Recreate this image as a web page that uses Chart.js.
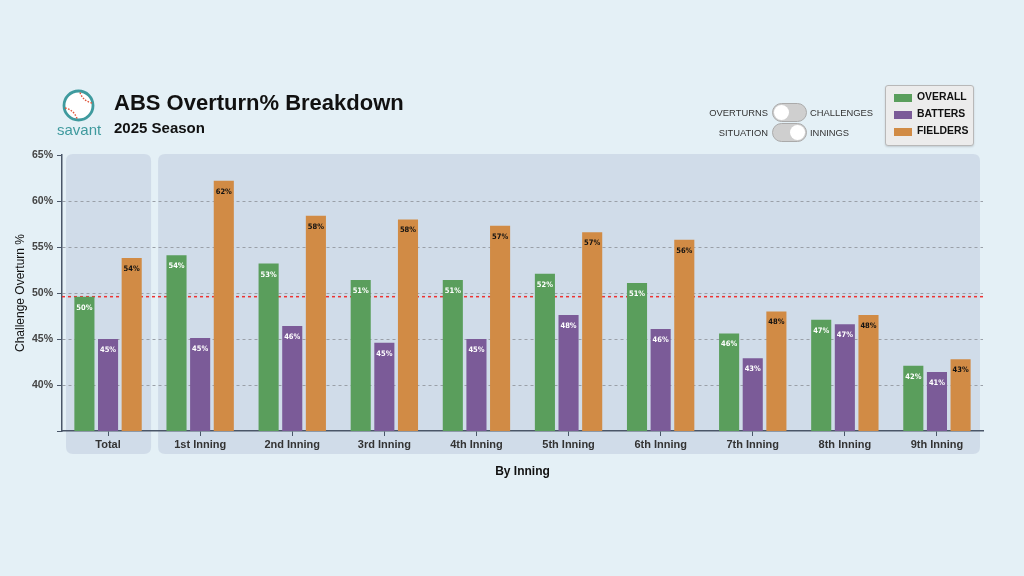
<!DOCTYPE html>
<html>
<head>
<meta charset="utf-8">
<script src="https://cdn.jsdelivr.net/npm/chart.js@4"></script>
<style>
  body { margin:0; background:#e4f0f6; font-family:"Liberation Sans", Arial, sans-serif; }
  #wrap { position:relative; width:1024px; height:576px; overflow:hidden; }
  #chart { position:absolute; left:0; top:0; }
  .title { position:absolute; left:114px; top:90px; font-size:22px; font-weight:bold; color:#111; }
  .sub { position:absolute; left:114px; top:119px; font-size:15px; font-weight:bold; color:#111; }
  .savant { position:absolute; left:57px; top:121px; font-size:15px; color:#3f9a9e; }
  .tg { position:absolute; font-size:9.4px; color:#333; white-space:nowrap; }
  .tr { text-align:right; width:70px; }
  .pill { position:absolute; width:33px; height:17px; background:#cfcfcf; border:1px solid #aaa; border-radius:10px; }
  .knob { position:absolute; top:1px; width:15px; height:15px; background:#fff; border-radius:50%; }
  .legend { position:absolute; left:885px; top:85px; width:87px; height:59px; background:#ececec; border:1px solid #b8b8b8; border-radius:3px; box-shadow:0 1px 2px rgba(0,0,0,0.15); }
  .lg { position:absolute; left:31px; font-size:10.4px; font-weight:bold; color:#111; }
  .sw { position:absolute; left:8px; width:18px; height:8px; }
</style>
</head>
<body>
<div id="wrap">
  <canvas id="chart" width="1024" height="576"></canvas>

  <svg style="position:absolute;left:61px;top:89px" width="36" height="34">
    <circle cx="17.5" cy="16.5" r="14.5" fill="#fff" stroke="#3f9a9e" stroke-width="2.8"/>
    <path d="M19 3.5 Q22 12 31 14" fill="none" stroke="#e0553a" stroke-width="1.4" stroke-dasharray="1.6 1.4"/>
    <path d="M4 19 Q13 21 16 29.5" fill="none" stroke="#e0553a" stroke-width="1.4" stroke-dasharray="1.6 1.4"/>
  </svg>
  <div class="savant">savant</div>
  <div class="title">ABS Overturn% Breakdown</div>
  <div class="sub">2025 Season</div>

  <div class="tg tr" style="left:698px;top:107px">OVERTURNS</div>
  <div class="pill" style="left:772px;top:103px"><div class="knob" style="left:1px"></div></div>
  <div class="tg" style="left:810px;top:107px">CHALLENGES</div>
  <div class="tg tr" style="left:698px;top:127px">SITUATION</div>
  <div class="pill" style="left:772px;top:123px"><div class="knob" style="left:17px"></div></div>
  <div class="tg" style="left:810px;top:127px">INNINGS</div>

  <div class="legend">
    <div class="sw" style="top:8px;background:#5a9e5c"></div><div class="lg" style="top:5px">OVERALL</div>
    <div class="sw" style="top:25px;background:#7b5b98"></div><div class="lg" style="top:22px">BATTERS</div>
    <div class="sw" style="top:42px;background:#d18b45"></div><div class="lg" style="top:39px">FIELDERS</div>
  </div>
</div>

<script>
// data
const categories = ['Total','1st Inning','2nd Inning','3rd Inning','4th Inning','5th Inning','6th Inning','7th Inning','8th Inning','9th Inning'];
const overall  = [49.6, 54.1, 53.2, 51.4, 51.4, 52.1, 51.1, 45.6, 47.1, 42.1];
const batters  = [45.0, 45.1, 46.4, 44.6, 45.0, 47.6, 46.1, 42.9, 46.6, 41.4];
const fielders = [53.8, 62.2, 58.4, 58.0, 57.3, 56.6, 55.8, 48.0, 47.6, 42.8];
const overallAvg = 49.6;

const colors = { overall:'#5a9e5c', batters:'#7b5b98', fielders:'#d18b45' };

function roundRect(ctx, x, y, w, h, r) {
    ctx.beginPath();
    ctx.moveTo(x + r, y);
    ctx.lineTo(x + w - r, y);
    ctx.quadraticCurveTo(x + w, y, x + w, y + r);
    ctx.lineTo(x + w, y + h - r);
    ctx.quadraticCurveTo(x + w, y + h, x + w - r, y + h);
    ctx.lineTo(x + r, y + h);
    ctx.quadraticCurveTo(x, y + h, x, y + h - r);
    ctx.lineTo(x, y + r);
    ctx.quadraticCurveTo(x, y, x + r, y);
    ctx.closePath();
}

// grey panels behind "Total" and the innings
const panels = {
    id: 'panels',
    beforeDraw(chart) {
        const ctx = chart.ctx, xs = chart.scales.x, area = chart.chartArea;
        const w = xs.getPixelForValue(1) - xs.getPixelForValue(0);
        const top = area.top - 1, bottom = 454;
        ctx.save();
        ctx.fillStyle = '#d0dce9';
        let l = xs.getPixelForValue(0) - w / 2 + 4, r = xs.getPixelForValue(0) + w / 2 - 3;
        roundRect(ctx, l, top, r - l, bottom - top, 7); ctx.fill();
        l = xs.getPixelForValue(1) - w / 2 + 4; r = xs.getPixelForValue(9) + w / 2 - 3;
        roundRect(ctx, l, top, r - l, bottom - top, 7); ctx.fill();
        ctx.restore();
    }
};

// red dashed average line
const avgLine = {
    id: 'avgLine',
    beforeDatasetsDraw(chart) {
        const ctx = chart.ctx, area = chart.chartArea;
        const y = chart.scales.y.getPixelForValue(overallAvg);
        ctx.save();
        ctx.strokeStyle = '#ee3333';
        ctx.lineWidth = 1.5;
        ctx.setLineDash([3, 3]);
        ctx.beginPath();
        ctx.moveTo(area.left, y);
        ctx.lineTo(area.right, y);
        ctx.stroke();
        ctx.restore();
    }
};

// value labels inside the bars
const barLabels = {
    id: 'barLabels',
    afterDatasetsDraw(chart) {
        const ctx = chart.ctx;
        ctx.save();
        ctx.font = 'bold 7.5px "DejaVu Sans Condensed", "Liberation Sans", sans-serif';
        ctx.textAlign = 'center';
        ctx.textBaseline = 'middle';
        chart.data.datasets.forEach((ds, i) => {
            ctx.fillStyle = i == 2 ? '#111' : '#fff';
            chart.getDatasetMeta(i).data.forEach((bar, j) => {
                ctx.fillText(Math.round(ds.data[j]) + '%', bar.x, bar.y + 11);
            });
        });
        ctx.restore();
    }
};

new Chart(document.getElementById('chart'), {
    type: 'bar',
    data: {
        labels: categories,
        datasets: [
            { label: 'OVERALL',  data: overall,  backgroundColor: colors.overall },
            { label: 'BATTERS',  data: batters,  backgroundColor: colors.batters },
            { label: 'FIELDERS', data: fielders, backgroundColor: colors.fielders }
        ]
    },
    options: {
        responsive: false,
        animation: false,
        layout: { padding: { left: 10, right: 41, top: 155, bottom: 80 } },
        datasets: { bar: { categoryPercentage: 0.77, barPercentage: 0.85 } },
        plugins: { legend: { display: false }, tooltip: { enabled: false } },
        scales: {
            x: {
                afterFit(s) { s.height = 65; },
                grid: { offset: false, drawOnChartArea: false, drawTicks: true, tickLength: 5, color: '#4a5668' },
                border: { color: '#4a5668', width: 1.5 },
                ticks: { color: '#333', padding: 2, font: { size: 11, weight: 'bold', family: '"Liberation Sans", Arial, sans-serif' } },
                title: { display: true, text: 'By Inning', color: '#111', padding: { top: 0, bottom: 17 },
                         font: { size: 12, weight: 'bold', family: '"Liberation Sans", Arial, sans-serif' } }
            },
            y: {
                min: 35, max: 65,
                afterFit(s) { s.width = 52; },
                grid: {
                    color: ctx => ctx.tick && (ctx.tick.value == 65 || ctx.tick.value == 35) ? 'rgba(0,0,0,0)' : '#9aa0a8',
                    tickColor: '#4a5668', tickLength: 5, tickBorderDash: [], tickWidth: 1
                },
                border: { color: '#4a5668', width: 1.5, dash: [3, 3] },
                ticks: {
                    stepSize: 5, padding: 4, color: '#444',
                    font: { size: 10.5, weight: 'bold', family: '"Liberation Sans", Arial, sans-serif' },
                    callback: v => v == 35 ? '' : v + '%'
                },
                title: { display: true, text: 'Challenge Overturn %', color: '#111', padding: { top: 3, bottom: 0 },
                         font: { size: 12, family: '"Liberation Sans", Arial, sans-serif' } }
            }
        }
    },
    plugins: [panels, avgLine, barLabels]
});
</script>
</body>
</html>
